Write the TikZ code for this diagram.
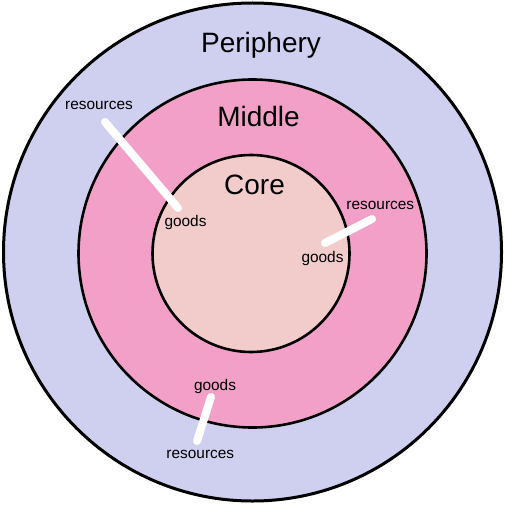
\documentclass[tikz,border=0pt]{standalone}
\usepackage{fontspec}
\setmainfont{Liberation Sans}
\definecolor{periphery}{RGB}{207,207,239}
\definecolor{middle}{RGB}{242,160,200}
\definecolor{core}{RGB}{242,203,203}
\begin{document}
\begin{tikzpicture}[x=1pt,y=-1pt,ring/.style={draw=black,line width=2.6pt},flow/.style={draw=white,line width=8pt,line cap=round},title/.style={anchor=base,inner sep=0pt,font=\fontsize{28}{33}\selectfont},tag/.style={anchor=base,inner sep=0pt,font=\fontsize{15.4}{18}\selectfont}]
                        \useasboundingbox (0,0) rectangle (505,505);
                        \path[ring,fill=periphery,line width=3pt] (252.5,252) circle (249pt);
                        \path[ring,fill=middle] (252.5,253.5) circle (174pt);
                        \path[ring,fill=core] (251,253.5) circle (98.5pt);

                        \node[title] (periphery) at (261,52.3) {Periphery};
                        \node[title] (middle) at (258.5,127) {Middle};
                        \node[title] (core) at (254.5,194) {Core};

                        \node[tag] (res1) at (99,109.3) {resources};
                        \node[tag] (goods1) at (185.5,226.8) {goods};
                        \node[tag] (res2) at (380.3,209.3) {resources};
                        \node[tag] (goods2) at (322.5,262.5) {goods};
                        \node[tag] (goods3) at (215,390) {goods};
                        \node[tag] (res3) at (200.3,458.3) {resources};

                        \coordinate (r1) at (105,122);
                        \coordinate (g1) at (178,208);
                        \coordinate (r2) at (372,219);
                        \coordinate (g2) at (325,243);
                        \coordinate (g3) at (211,397);
                        \coordinate (r3) at (197,441);

                        \path[flow]
                            (r1) -- (g1)
                            (r2) -- (g2)
                            (g3) -- (r3)
                        ;

                    \end{tikzpicture}
\end{document}
